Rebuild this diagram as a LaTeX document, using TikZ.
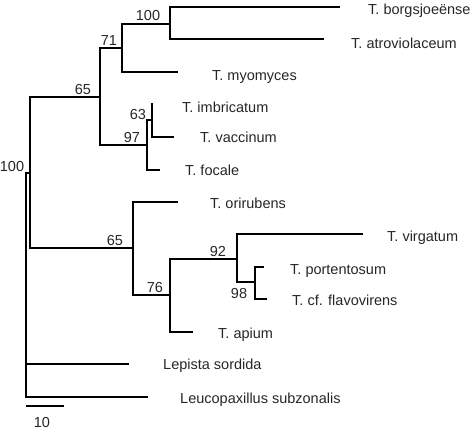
\documentclass[tikz,border=0pt]{standalone}
\usepackage{fontspec}
\setmainfont{Liberation Sans}
\begin{document}
\begin{tikzpicture}[x=1pt,y=-1pt,
  br/.style={line width=1.6pt, line cap=rect},
  tip/.style={anchor=base west, inner sep=0pt, font=\fontsize{14.5}{16}\selectfont, text=black!85},
  bs/.style={anchor=base, inner sep=0pt, font=\fontsize{14.5}{16}\selectfont, text=black!85}]
\useasboundingbox (0,0) rectangle (474,432);
% internal nodes
\coordinate (root) at (26,173);
\coordinate (nB) at (30,173);
\coordinate (nA65) at (100,97);
\coordinate (n71) at (122,48);
\coordinate (nA100) at (170,24);
\coordinate (n97) at (147,145);
\coordinate (n63) at (152,120);
\coordinate (nB65) at (133,248);
\coordinate (n76) at (170,295);
\coordinate (n92) at (237,259);
\coordinate (n98) at (255,282);
% tip ends
\coordinate (tborg) at (339,7);
\coordinate (tatro) at (323,39);
\coordinate (tmyo) at (177,72);
\coordinate (timbr) at (152,104);
\coordinate (tvacc) at (173,137);
\coordinate (tfoc) at (159,170);
\coordinate (torir) at (177,202);
\coordinate (tvirg) at (362,234);
\coordinate (tport) at (263,267);
\coordinate (tflav) at (266,299);
\coordinate (tapi) at (192,332);
\coordinate (tlep) at (128,364);
\coordinate (tleu) at (147,397);
% branches
\draw[br] (root) |- (nB);
\draw[br] (root) |- (tlep);
\draw[br] (root) |- (tleu);
\draw[br] (nB) |- (nA65);
\draw[br] (nB) |- (nB65);
\draw[br] (nA65) |- (n71);
\draw[br] (nA65) |- (n97);
\draw[br] (n71) |- (nA100);
\draw[br] (n71) |- (tmyo);
\draw[br] (nA100) |- (tborg);
\draw[br] (nA100) |- (tatro);
\draw[br] (n97) |- (n63);
\draw[br] (n97) |- (tfoc);
\draw[br] (n63) |- (timbr);
\draw[br] (n63) |- (tvacc);
\draw[br] (nB65) |- (torir);
\draw[br] (nB65) |- (n76);
\draw[br] (n76) |- (n92);
\draw[br] (n76) |- (tapi);
\draw[br] (n92) |- (tvirg);
\draw[br] (n92) |- (n98);
\draw[br] (n98) |- (tport);
\draw[br] (n98) |- (tflav);
% tip labels
\node[tip] (lborg) at (368,14) {T. borgsjoe\"ense};
\node[tip] (latro) at (351,48) {T. atroviolaceum};
\node[tip] (lmyo) at (212,80) {T. myomyces};
\node[tip] (limbr) at (182,112) {T. imbricatum};
\node[tip] (lvacc) at (200,142) {T. vaccinum};
\node[tip] (lfoc) at (185,175) {T. focale};
\node[tip] (lorir) at (210,208) {T. orirubens};
\node[tip] (lvirg) at (387,241) {T. virgatum};
\node[tip] (lport) at (290,274) {T. portentosum};
\node[tip] (lflav) at (292,305) {T. cf. flavovirens};
\node[tip] (lapi) at (218,338) {T. apium};
\node[tip] (llep) at (163,369) {Lepista sordida};
\node[tip] (lleu) at (180,403) {Leucopaxillus subzonalis};
% bootstrap values
\node[bs] (b1) at (148,20) {100};
\node[bs] (b2) at (109,45) {71};
\node[bs] (b3) at (83,94) {65};
\node[bs] (b4) at (138,119) {63};
\node[bs] (b5) at (132,142) {97};
\node[bs] (b6) at (12,171) {100};
\node[bs] (b7) at (115,245) {65};
\node[bs] (b8) at (155,292) {76};
\node[bs] (b9) at (218,256) {92};
\node[bs] (b10) at (239,298) {98};
% scale bar
\coordinate (sb1) at (27,406);
\coordinate (sb2) at (63,406);
\draw[br] (sb1) -- (sb2);
\node[bs] (sbl) at (42,427) {10};
\end{tikzpicture}
\end{document}
